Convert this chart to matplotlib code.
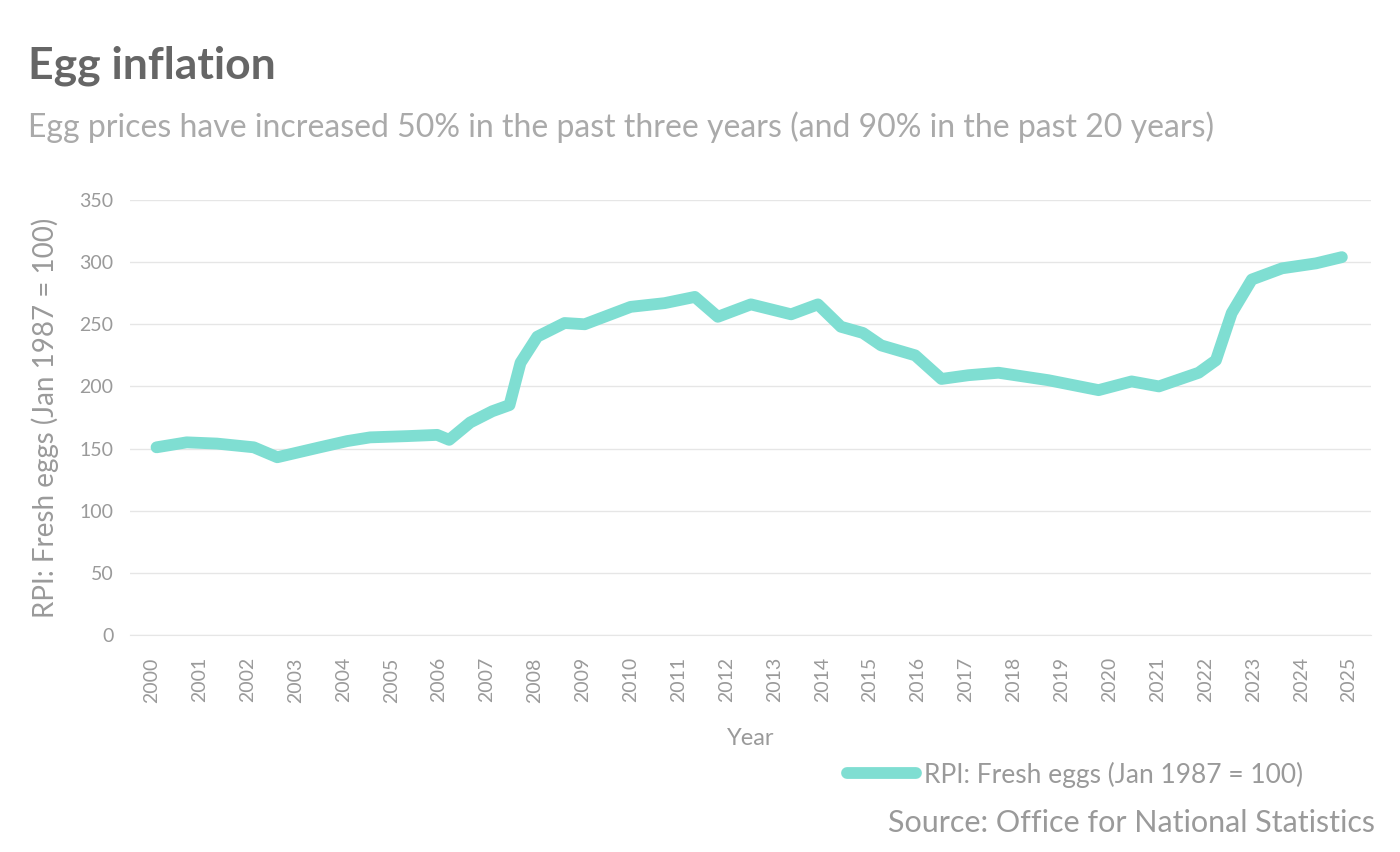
import matplotlib.pyplot as plt
import numpy as np

plt.rcParams['font.family'] = ['Lato', 'DejaVu Sans']

# approximate readings, x as fractional year
years = [2000.10, 2000.73, 2001.36, 2002.13, 2002.62, 2003.51, 2004.08, 2004.56,
         2005.33, 2005.96, 2006.21, 2006.65, 2007.11, 2007.47, 2007.70, 2008.05,
         2008.62, 2009.04, 2009.52, 2010.00, 2010.71, 2011.34, 2011.82, 2012.51,
         2013.35, 2013.91, 2014.39, 2014.85, 2015.23, 2015.94, 2016.49, 2017.05,
         2017.68, 2018.72, 2019.77, 2020.46, 2021.03, 2021.86, 2022.22, 2022.55,
         2022.97, 2023.60, 2024.31, 2024.85]
rpi_eggs = [151, 155, 154, 151, 143, 151, 156, 159,
            160, 161, 157, 171, 180, 185, 219, 240,
            251, 250, 257, 264, 267, 272, 256, 266,
            258, 266, 248, 243, 233, 225, 206, 209,
            211, 205, 197, 204, 200, 211, 221, 259,
            286, 295, 299, 304]
tick_years = list(range(2000, 2026))
y_ticks = [0, 50, 100, 150, 200, 250, 300, 350]

line_color = '#7fded2'
text_grey = '#9a9a9a'

fig = plt.figure(figsize=(14, 8.52), dpi=100)
ax = fig.add_axes([0.093, 0.2547, 0.886, 0.5106])

ax.plot(years, rpi_eggs, color=line_color, lw=8.5, solid_capstyle='round',
        solid_joinstyle='round', label='RPI: Fresh eggs (Jan 1987 = 100)')

ax.set_xlim(1999.55, 2025.45)
ax.set_ylim(0, 350)
ax.set_xticks(tick_years)
ax.set_xticklabels([str(y) for y in tick_years], rotation=90)
ax.set_yticks(y_ticks)
ax.grid(axis='y', color='#e6e6e6', lw=1)
ax.set_axisbelow(True)
for s in ['top', 'right', 'left']:
    ax.spines[s].set_visible(False)
ax.spines['bottom'].set_color('#e6e6e6')
ax.tick_params(axis='x', length=0, labelsize=14, colors=text_grey, pad=16)
ax.tick_params(axis='y', length=0, labelsize=14, colors=text_grey, pad=12)
ax.set_xlabel('Year', fontsize=17, color=text_grey, labelpad=18)
ax.set_ylabel('RPI: Fresh eggs (Jan 1987 = 100)', fontsize=20, color=text_grey, labelpad=15)

fig.text(0.02, 0.923, 'Egg inflation', fontsize=32, fontweight='bold', color='#666666', va='center')
fig.text(0.02, 0.851, 'Egg prices have increased 50% in the past three years (and 90% in the past 20 years)',
         fontsize=23, color='#aaaaaa', va='center')

leg = fig.legend(loc='center', bbox_to_anchor=(0.768, 0.091), frameon=False, fontsize=19,
                 handlelength=2.6, handletextpad=0.3, labelcolor=text_grey)
fig.text(0.982, 0.034, 'Source: Office for National Statistics', fontsize=22,
         color=text_grey, ha='right', va='center')

fig.savefig('out.png', dpi=100)
